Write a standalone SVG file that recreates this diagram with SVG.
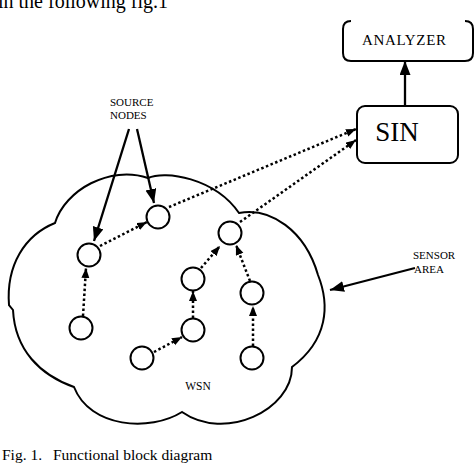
<svg xmlns="http://www.w3.org/2000/svg" width="474" height="465" viewBox="0 0 474 465">
<defs>
<style>
.t{font-family:"Liberation Serif","Times New Roman",serif;fill:#000}
.box{fill:#fff;stroke:#000;stroke-width:2}
.nd{fill:#fff;stroke:#000;stroke-width:2}
.dot{fill:none;stroke:#000;stroke-width:2.5;stroke-dasharray:2.5 2.5;marker-end:url(#ad)}
.sol{fill:none;stroke:#000;stroke-width:2.3;marker-end:url(#as)}
.cloud{fill:none;stroke:#000;stroke-width:2}
</style>
<marker id="ad" markerUnits="userSpaceOnUse" markerWidth="12" markerHeight="10" refX="10" refY="4" orient="auto">
<path d="M0,0 L10,4 L0,8 z" fill="#000"/>
</marker>
<marker id="as" markerUnits="userSpaceOnUse" markerWidth="16" markerHeight="14" refX="14" refY="5.5" orient="auto">
<path d="M0,0 L14,5.5 L0,11 z" fill="#000"/>
</marker>
</defs>
<rect width="474" height="465" fill="#fff"/>
<text class="t" x="-2" y="8" font-size="20">in the following fig.1</text>

<g id="cloud">
<path class="cloud" d="M55 223 C65 190 110 165 148 178 C165 170 215 178 239 213 C270 207 305 230 318 275 C330 305 328 340 292 367 C292 410 225 442 182 412 C150 432 90 428 74 387 C40 375 15 350 13 310 L9 305 C6 265 25 235 55 223 Z"/>
<text class="t" x="198" y="390" font-size="11.5" text-anchor="middle">WSN</text>
</g>

<g id="analyzer">
<path class="box" fill="none" d="M351 21 Q343 21 343 29 L343 53 Q343 61 351 61 L465 61 Q473 61 473 53 L473 29 Q473 21 465 21"/>
<text class="t" x="404" y="45" font-size="15" text-anchor="middle" textLength="84">ANALYZER</text>
</g>
<g id="sin">
<rect class="box" x="357" y="106" width="101" height="57" rx="8"/>
<text class="t" x="397" y="141" font-size="27" text-anchor="middle">SIN</text>
</g>

<g id="source-label">
<text class="t" x="110" y="106" font-size="11">SOURCE</text>
<text class="t" x="110" y="118.5" font-size="11">NODES</text>
</g>
<g id="sensor-label">
<text class="t" x="413" y="259" font-size="11">SENSOR</text>
<text class="t" x="414" y="273" font-size="11">AREA</text>
</g>

<g id="nodeA"><circle class="nd" cx="89" cy="255" r="11.5"/></g>
<g id="nodeB"><circle class="nd" cx="158" cy="217" r="11.5"/></g>
<g id="nodeC"><circle class="nd" cx="230" cy="233" r="11.5"/></g>
<g id="nodeD"><circle class="nd" cx="81" cy="328" r="11.5"/></g>
<g id="nodeE"><circle class="nd" cx="193" cy="279" r="11.5"/></g>
<g id="nodeF"><circle class="nd" cx="193" cy="330" r="11.5"/></g>
<g id="nodeG"><circle class="nd" cx="142" cy="358" r="11.5"/></g>
<g id="nodeH"><circle class="nd" cx="252" cy="293" r="11.5"/></g>
<g id="nodeI"><circle class="nd" cx="252" cy="358" r="11.5"/></g>

<g id="connectors">
<path class="dot" d="M83 316 L86 268"/>
<path class="dot" d="M100 246 L147 222"/>
<path class="dot" d="M169 207 L356 129"/>
<path class="dot" d="M240 222 L356 140"/>
<path class="dot" d="M201 268 L220 246"/>
<path class="dot" d="M250 281 L236 245"/>
<path class="dot" d="M193 318 L193 291"/>
<path class="dot" d="M154 352 L182 337"/>
<path class="dot" d="M253 346 L253 306"/>
<path class="sol" d="M129 129 L94 241"/>
<path class="sol" d="M137 129 L154 203"/>
<path class="sol" d="M415 268 L330 290"/>
<path class="sol" stroke-width="2.5" d="M405 106 L405 61"/>
</g>

<text class="t" x="2" y="460" font-size="15.5">Fig. 1.</text>
<text class="t" x="53" y="460" font-size="15.5">Functional block diagram</text>
</svg>
